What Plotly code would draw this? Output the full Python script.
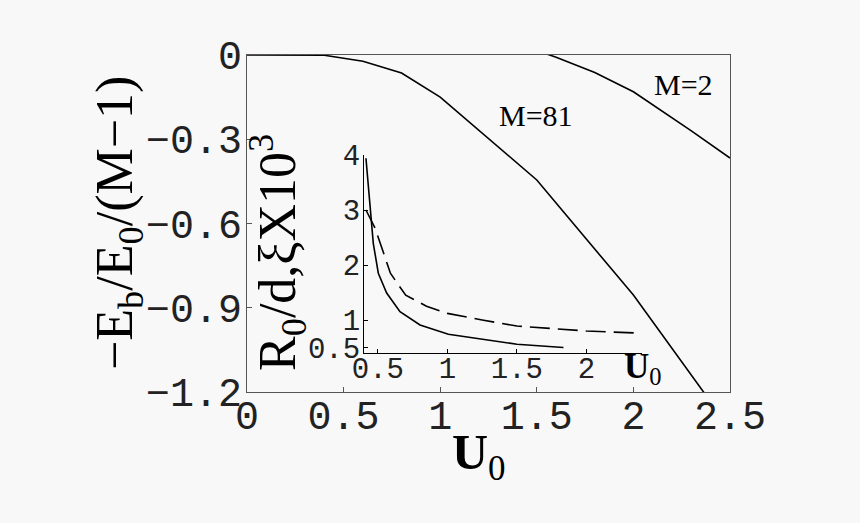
import plotly.graph_objects as go

# Main panel data: -E_b/E_0/(M-1) vs U_0
u_m81 = [0.0, 0.2, 0.4, 0.6, 0.8, 1.0, 1.5, 2.0, 2.5]
e_m81 = [0.0, 0.0, -0.001, -0.022, -0.064, -0.15, -0.445, -0.855, -1.33]
u_m2 = [1.4, 1.6, 1.8, 2.0, 2.3, 2.5]
e_m2 = [0.04, -0.008, -0.062, -0.131, -0.27, -0.367]

# Inset data: R0/d (solid) and xi x10^3 (dashed) vs U_0
u_r = [0.414, 0.467, 0.503, 0.563, 0.659, 0.803, 1.007, 1.5, 1.835]
r_vals = [3.94, 2.39, 1.85, 1.49, 1.15, 0.91, 0.74, 0.56, 0.5]
u_xi = [0.414, 0.48, 0.59, 0.7, 0.85, 1.0, 1.25, 1.5, 2.0, 2.39]
xi_vals = [3.0, 2.67, 1.85, 1.45, 1.25, 1.12, 1.0, 0.89, 0.8, 0.76]

main_xticks = [0, 0.5, 1, 1.5, 2, 2.5]
main_xtext = ["0", "0.5", "1", "1.5", "2", "2.5"]
main_yticks = [0, -0.3, -0.6, -0.9, -1.2]
main_ytext = ["0", "\u22120.3", "\u22120.6", "\u22120.9", "\u22121.2"]
inset_xticks = [0.5, 1, 1.5, 2]
inset_xtext = ["0.5", "1", "1.5", "2"]
inset_yticks = [0.5, 1, 2, 3, 4]
inset_ytext = ["0.5", "1", "2", "3", "4"]

W, H = 860, 523
L, R, T, B = 247, 130, 55, 131
PW, PH = W - L - R, H - T - B


def px(x):
    return (x - L) / PW


def py(y):
    return (H - B - y) / PH


BG = "#f8f8f8"
SERIF = "Liberation Serif"
MONO = "Liberation Mono"

fig = go.Figure()
fig.add_trace(go.Scatter(x=u_m81, y=e_m81, mode="lines",
                         line=dict(color="black", width=1.6), xaxis="x", yaxis="y"))
fig.add_trace(go.Scatter(x=u_m2, y=e_m2, mode="lines",
                         line=dict(color="black", width=1.6), xaxis="x", yaxis="y"))
fig.add_trace(go.Scatter(x=u_r, y=r_vals, mode="lines",
                         line=dict(color="black", width=1.6), xaxis="x2", yaxis="y2"))
fig.add_trace(go.Scatter(x=u_xi, y=xi_vals, mode="lines",
                         line=dict(color="black", width=1.6, dash="20px,8px"),
                         xaxis="x2", yaxis="y2"))

fig.update_layout(
    width=W, height=H, autosize=False,
    margin=dict(l=L, r=R, t=T, b=B, pad=0),
    paper_bgcolor=BG, plot_bgcolor="rgba(0,0,0,0)",
    showlegend=False,
    xaxis=dict(range=[0, 2.5], domain=[0, 1], tickvals=main_xticks, ticktext=main_xtext,
               showgrid=False, zeroline=False, showline=True, mirror=True,
               linecolor="#555", linewidth=1, ticks="inside", ticklen=5, tickcolor="#555",
               ticklabelstandoff=-12,
               tickfont=dict(family=MONO, size=40, color="#222")),
    yaxis=dict(range=[-1.2, 0], domain=[0, 1], tickvals=main_yticks, ticktext=main_ytext,
               showgrid=False, zeroline=False, showline=True, mirror=True,
               linecolor="#555", linewidth=1, ticks="inside", ticklen=5, tickcolor="#555",
               ticklabelstandoff=-4,
               tickfont=dict(family=MONO, size=40, color="#222")),
    xaxis2=dict(range=[0.4, 2.4], domain=[px(364), px(642)], anchor="y2",
                tickvals=inset_xticks, ticktext=inset_xtext,
                showgrid=False, zeroline=False, showline=True,
                linecolor="black", linewidth=1, ticks="inside", ticklen=4, tickcolor="black",
                ticklabelstandoff=-11,
                tickfont=dict(family=MONO, size=29, color="#222")),
    yaxis2=dict(range=[0.4, 4.0], domain=[py(353), py(155)], anchor="x2",
                tickvals=inset_yticks, ticktext=inset_ytext,
                showgrid=False, zeroline=False, showline=True,
                linecolor="black", linewidth=1, ticks="inside", ticklen=4, tickcolor="black",
                ticklabelstandoff=-3,
                tickfont=dict(family=MONO, size=29, color="#222")),
)

ann = [
    dict(text="\u2212E<sub>b</sub>/E<sub>0</sub>/(M\u22121)", x=px(118), y=py(223), textangle=-90,
         font=dict(family=SERIF, size=52, color="black")),
    dict(text="<b>U</b><sub>0</sub>", x=px(479), y=py(456),
         font=dict(family=SERIF, size=50, color="black")),
    dict(text="R<sub>0</sub>/d,\u03beX10<sup>3</sup>", x=px(277), y=py(253), textangle=-90,
         font=dict(family=SERIF, size=52, color="black")),
    dict(text="<b>U</b><sub>0</sub>", x=px(643), y=py(368),
         font=dict(family=SERIF, size=35, color="black")),
    dict(text="M=81", x=px(536), y=py(115),
         font=dict(family=SERIF, size=30, color="black")),
    dict(text="M=2", x=px(683), y=py(85),
         font=dict(family=SERIF, size=30, color="black")),
]
for a in ann:
    a.update(xref="paper", yref="paper", showarrow=False, xanchor="center", yanchor="middle")
fig.update_layout(annotations=ann)

fig.write_html("out.html")
